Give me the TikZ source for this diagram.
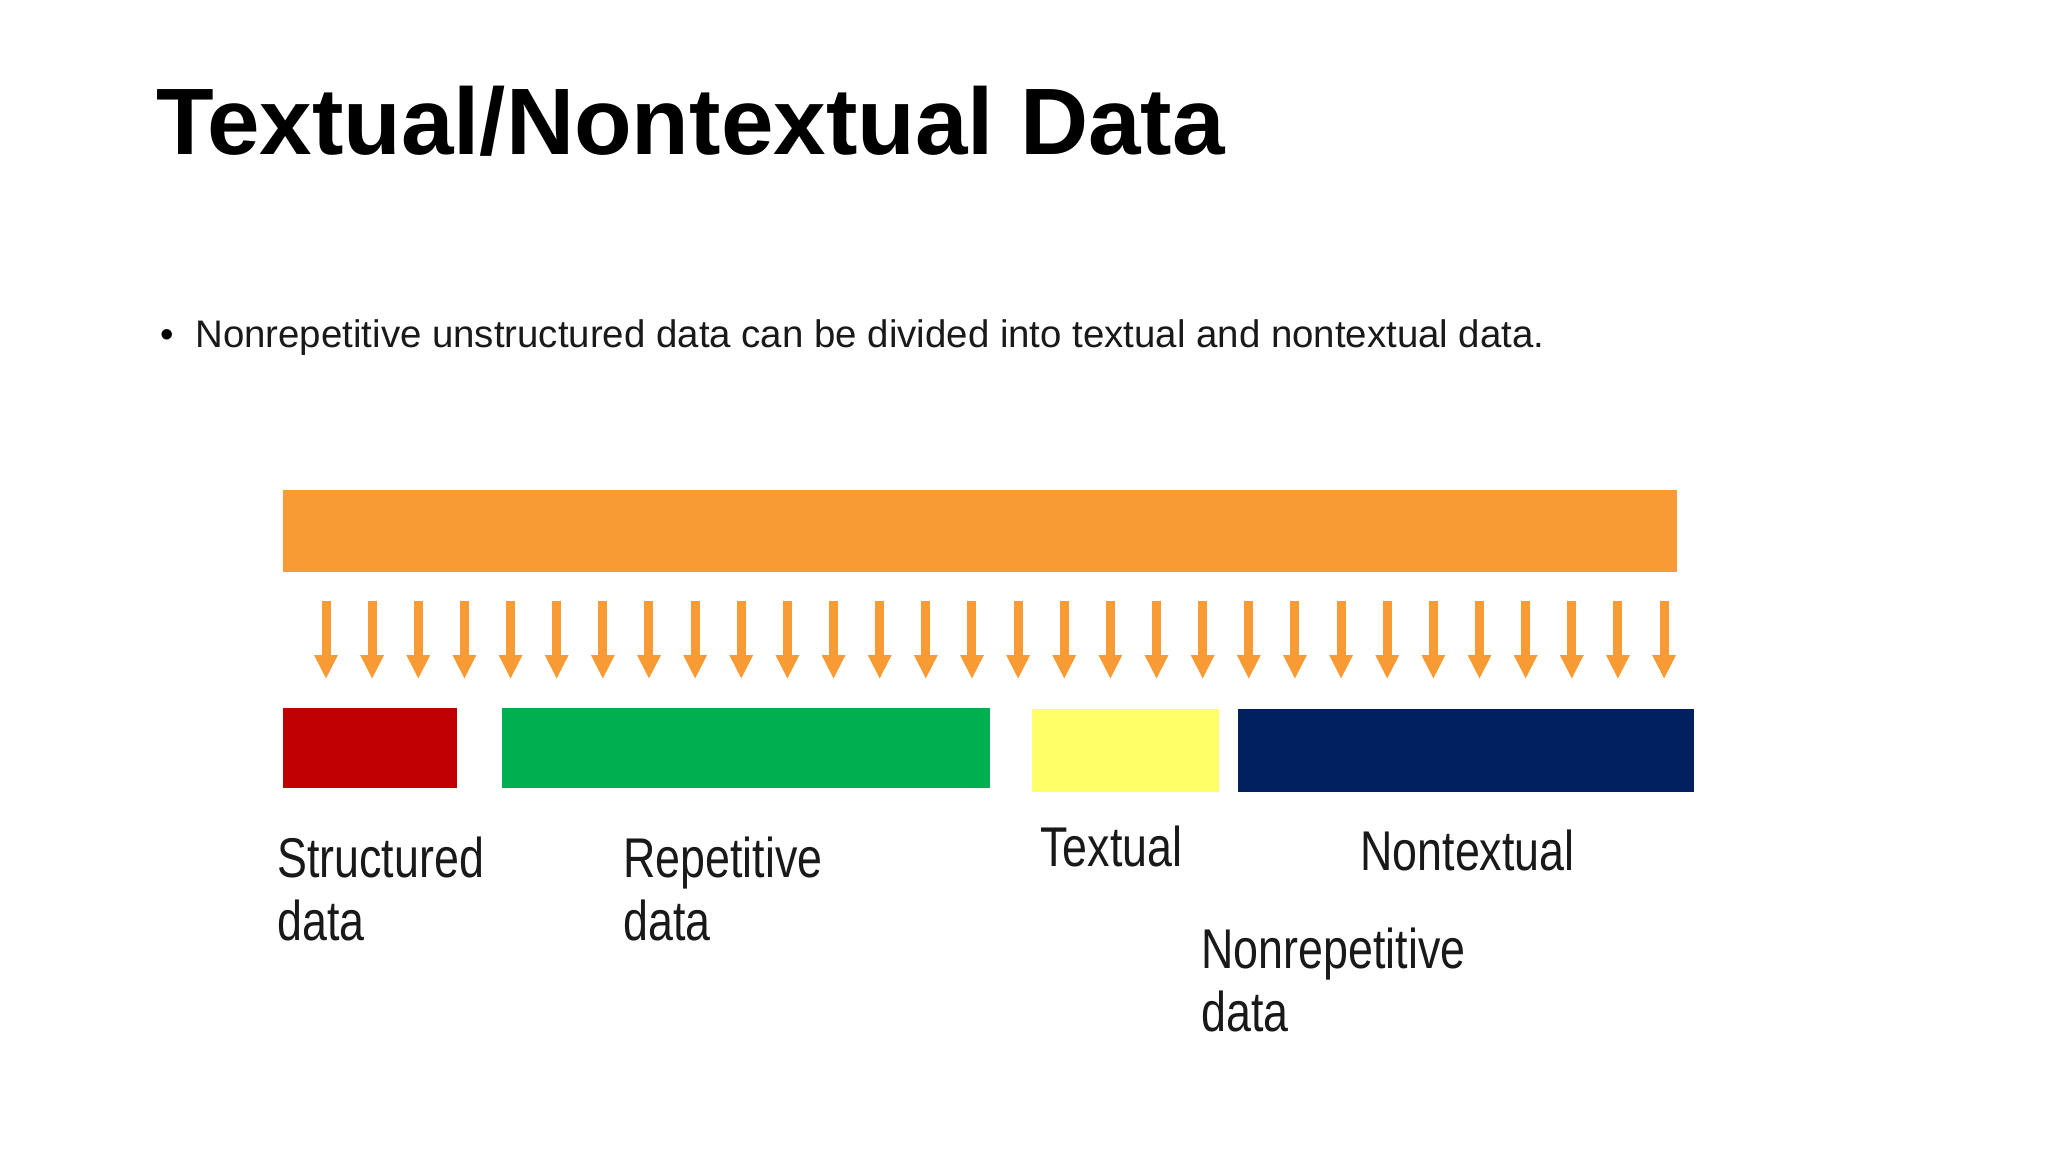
\documentclass[tikz,border=0pt]{standalone}
\usepackage{fontspec}
\setmainfont{Liberation Sans}
\newfontfamily\narrowfont[FakeStretch=0.8]{Liberation Sans}
\usetikzlibrary{arrows.meta}
\definecolor{barorange}{HTML}{F99B35}
\definecolor{boxred}{HTML}{C00000}
\definecolor{boxgreen}{HTML}{00B050}
\definecolor{boxyellow}{HTML}{FFFF66}
\definecolor{boxnavy}{HTML}{002060}

\begin{document}
\begin{tikzpicture}[x=0.5pt, y=-0.5pt,
        lbl/.style={anchor=base west, inner sep=0pt, align=left,
            font=\narrowfont\fontsize{28}{31.5}\selectfont, text=black!90},
        downarrow/.style={barorange, line width=4.5pt, -{Triangle[width=11pt, length=12pt]}}]
        \useasboundingbox[fill=white] (0,0) rectangle (2048,1152);
        \node[anchor=base west, inner sep=0pt, font=\bfseries\fontsize{47.2}{50}\selectfont] (title) at (156,154) {Textual/Nontextual Data};
        \node[anchor=base west, inner sep=0pt, font=\fontsize{19.2}{23}\selectfont] (bullet) at (160,347) {\textbullet};
        \node[anchor=base west, inner sep=0pt, font=\fontsize{19.2}{23}\selectfont, text=black!90] (point) at (195,347) {Nonrepetitive unstructured data can be divided into textual and nontextual data.};
        \fill[barorange] (283,490) rectangle (1677,572);
        \foreach \i in {0,...,29} {
            \draw[downarrow] (326+\i*46.14,601) -- (326+\i*46.14,679);
        }
        \fill[boxred] (283,708) rectangle (457,788);
        \fill[boxgreen] (502,708) rectangle (990,788);
        \fill[boxyellow] (1032,709) rectangle (1219,792);
        \fill[boxnavy] (1238,709) rectangle (1694,792);
        \node[lbl] (structured) at (277,940) {Structured\\data};
        \node[lbl] (repetitive) at (623,940) {Repetitive\\data};
        \node[lbl] (textual) at (1040,866) {Textual};
        \node[lbl] (nontextual) at (1360,870) {Nontextual};
        \node[lbl] (nonrepetitive) at (1201,1031) {Nonrepetitive\\data};
    \end{tikzpicture}
\end{document}
